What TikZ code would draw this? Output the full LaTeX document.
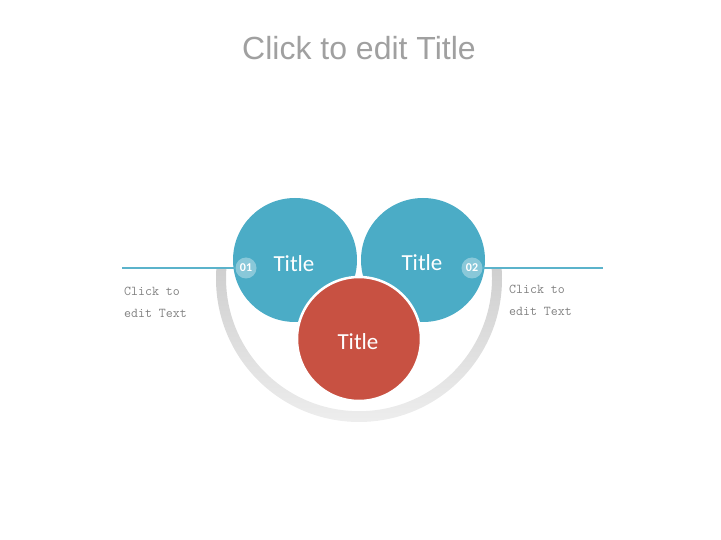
\documentclass[tikz,border=0pt]{standalone}
\usepackage{fontspec}
\setmainfont{Liberation Sans}
\newfontfamily\calfont{Carlito}
\definecolor{cblue}{HTML}{4BACC6}
\definecolor{cred}{HTML}{C85142}
\definecolor{cline}{HTML}{5BB3CB}
\definecolor{ctitle}{HTML}{A0A0A0}
\definecolor{ctext}{HTML}{808080}
\definecolor{ringtop}{HTML}{CFCFCF}
\definecolor{ringbot}{HTML}{EEEEEE}
\tikzset{
  bluecirc/.style={circle, fill=cblue, minimum size=124pt, inner sep=0pt},
  redcirc/.style={circle, fill=cred, draw=white, line width=2.5pt, minimum size=124pt, inner sep=0pt},
  ctitle/.style={text=white, font=\calfont\fontsize{23}{23}\selectfont, anchor=base},
  badge/.style={circle, fill=white, fill opacity=0.35, text opacity=1, text=white, minimum size=21pt, inner sep=0pt, font=\calfont\bfseries\fontsize{12}{12}\selectfont},
  sidetext/.style={text=ctext, font=\ttfamily\fontsize{13.5}{22}\selectfont, anchor=north west, align=left, inner sep=0pt},
  connline/.style={draw=cline, line width=1.1pt}
}
\begin{document}
\begin{tikzpicture}[x=1pt,y=-1pt]
\useasboundingbox (0,0) rectangle (721,540);
% title
\node[text=ctitle, font=\fontsize{32}{32}\selectfont, anchor=base] (title) at (359,60) {Click to edit Title};
% ring
\shade[top color=ringtop, bottom color=ringbot]
  (359,279) ++(-4.6:143) arc[start angle=-4.6, end angle=184.6, radius=143]
  -- ++(10,0) arc[start angle=184.6, end angle=-4.6, radius=133] -- cycle;
% connector anchors
\coordinate (l0) at (122,268);
\coordinate (r0) at (603,268);
% circles
\node[bluecirc] (cl) at (295,260) {};
\node[bluecirc] (cr) at (423,260) {};
\node[redcirc] (cm) at (359,339) {};
% badges
\node[badge] (b1) at (246,268) {01};
\node[badge] (b2) at (472,268) {02};
\draw[connline] (l0) -- (b1.west);
\draw[connline] (b2.east) -- (r0);
% circle titles
\node[ctitle] (tl) at (294,272) {Title};
\node[ctitle] (tr) at (422,271) {Title};
\node[ctitle] (tm) at (358,350) {Title};
% side texts
\node[sidetext] (sl) at (124,287) {Click to\\edit Text};
\node[sidetext] (sr) at (509,285) {Click to\\edit Text};
\end{tikzpicture}
\end{document}
